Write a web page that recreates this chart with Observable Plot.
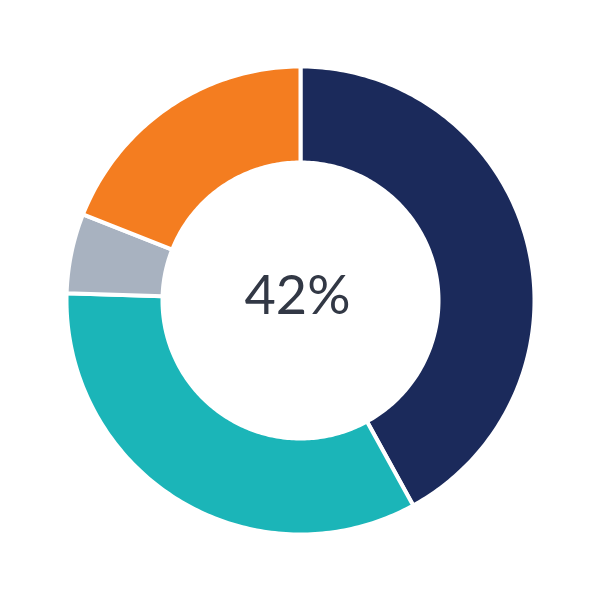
<!DOCTYPE html>
<html>
<head>
<meta charset="utf-8">
<script src="https://cdn.jsdelivr.net/npm/d3@7"></script>
<script src="https://cdn.jsdelivr.net/npm/@observablehq/plot@0.6"></script>
<style>
  html, body { margin: 0; padding: 0; background: #ffffff; }
  #chart { width: 600px; height: 600px; }
</style>
</head>
<body>
<div id="chart"></div>
<script>
// Data
const categories = ["A", "B", "C", "D"];
const values = [42, 33.5, 5.5, 19];
const colors = ["#1b2a5b", "#1bb5b8", "#a8b2c0", "#f47d20"];
const centerLabel = [`${values[0]}%`];

// Geometry (pixel-like data units, centre at 0,0)
const outerR = 234;
const innerR = 138;

const pie = d3.pie().sort(null).value(d => d.value).startAngle(0).endAngle(2 * Math.PI);
const arcs = pie(categories.map((c, i) => ({name: c, value: values[i]})));

const points = [];
for (const a of arcs) {
  const n = Math.max(4, Math.ceil((a.endAngle - a.startAngle) / (2 * Math.PI) * 400));
  for (let k = 0; k <= n; k++) {
    const t = a.startAngle + (a.endAngle - a.startAngle) * k / n;
    points.push({name: a.data.name, x: outerR * Math.sin(t), y: outerR * Math.cos(t)});
  }
  for (let k = n; k >= 0; k--) {
    const t = a.startAngle + (a.endAngle - a.startAngle) * k / n;
    points.push({name: a.data.name, x: innerR * Math.sin(t), y: innerR * Math.cos(t)});
  }
}

const chart = Plot.plot({
  width: 600,
  height: 600,
  margin: 0,
  x: {domain: [-300, 300], axis: null},
  y: {domain: [-300, 300], axis: null},
  color: {domain: categories, range: colors},
  marks: [
    Plot.line(points, {
      x: "x", y: "y", z: "name", fill: "name",
      stroke: "white", strokeWidth: 4, curve: "linear-closed"
    }),
    Plot.text(centerLabel, {
      text: d => d, frameAnchor: "middle", dx: -3, dy: -4,
      fontSize: 54, fontFamily: "Lato", fontWeight: 400, fill: "#323845"
    })
  ]
});
document.getElementById("chart").appendChild(chart);
</script>
</body>
</html>
